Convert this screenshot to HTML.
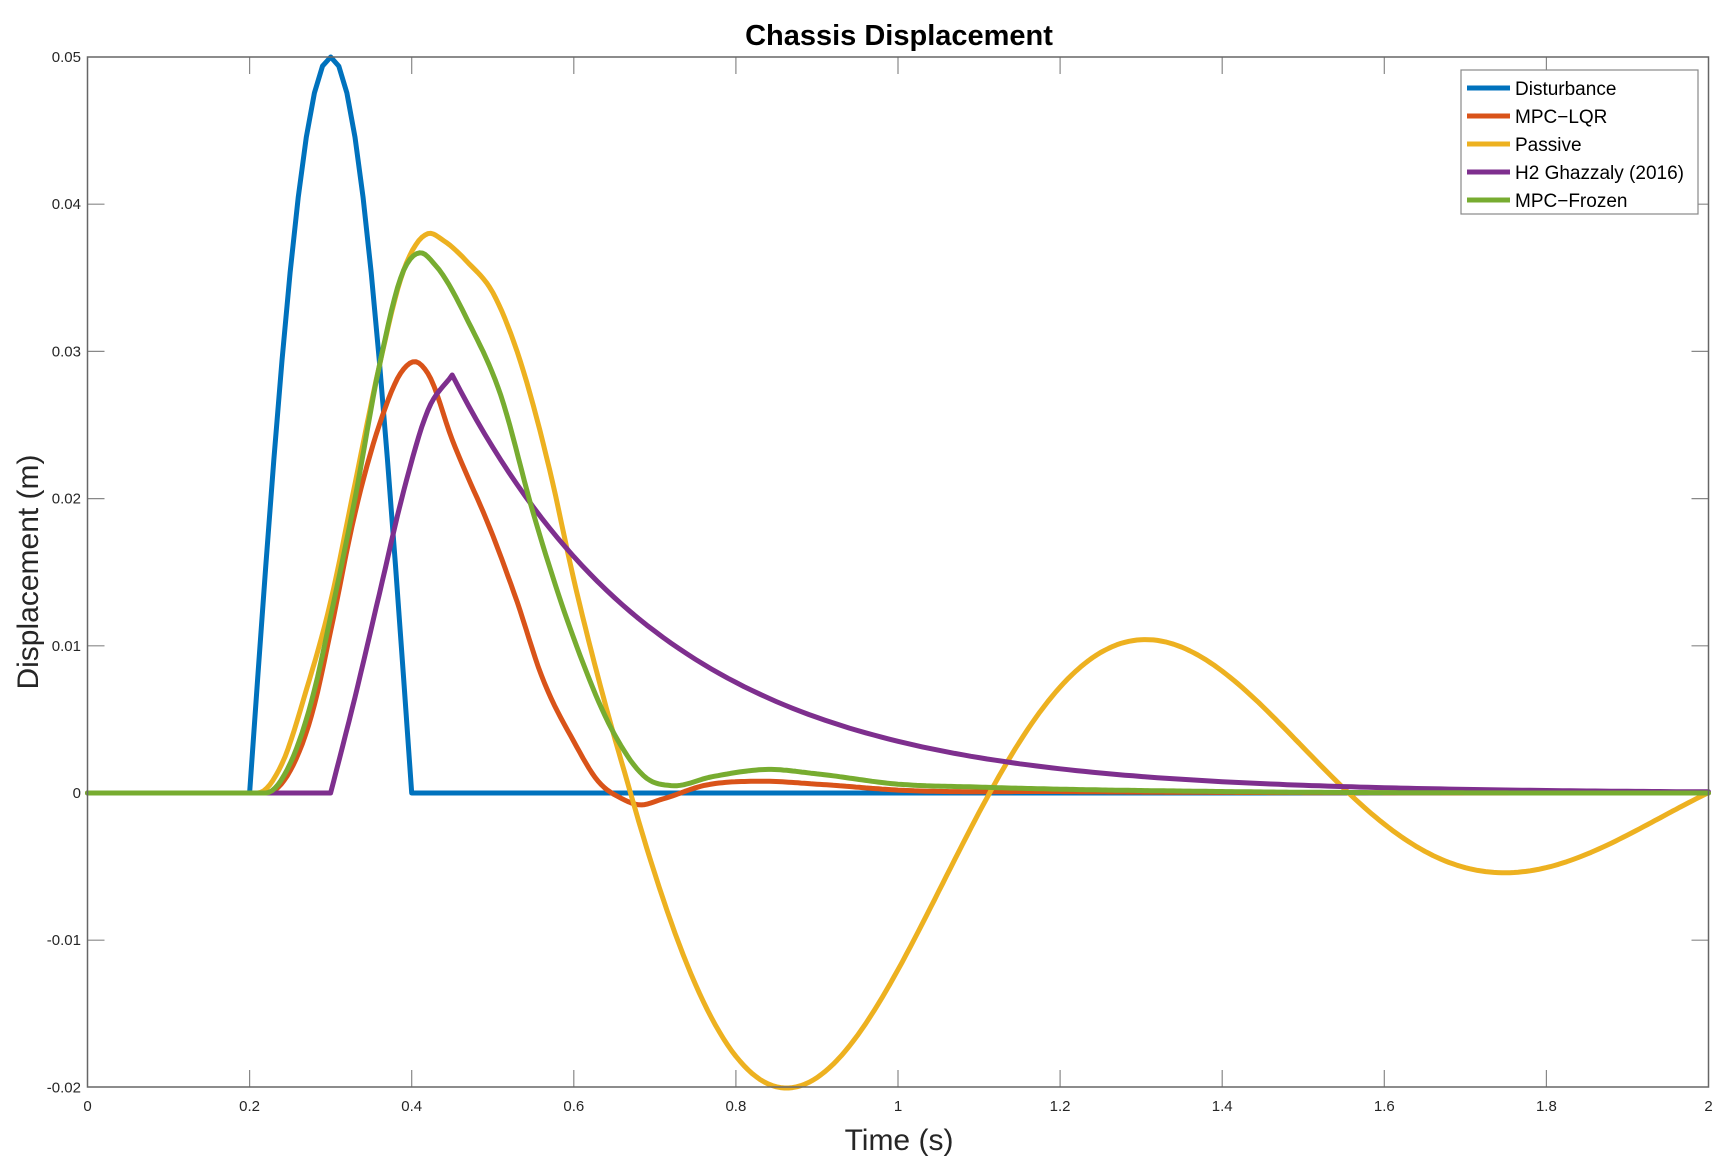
<!DOCTYPE html>
<html><head><meta charset="utf-8"><style>
body{margin:0;background:#fff;}
svg{display:block;font-family:"Liberation Sans",Arial,sans-serif;}
</style></head><body>
<svg id="s" width="1732" height="1168" viewBox="0 0 1732 1168" xmlns="http://www.w3.org/2000/svg">
<rect width="1732" height="1168" fill="#fff"/>
<g id="grid"></g>
<g id="curves" fill="none" stroke-width="5" stroke-linejoin="round" stroke-linecap="round"></g>
<rect x="87.5" y="57" width="1621" height="1030" fill="none" stroke="#666" stroke-width="1.5"/>
<text x="899" y="45" text-anchor="middle" font-size="29" font-weight="bold" fill="#000">Chassis Displacement</text>
<text x="899" y="1150" text-anchor="middle" font-size="30" fill="#262626">Time (s)</text>
<text transform="translate(38,572) rotate(-90)" text-anchor="middle" font-size="30" fill="#262626">Displacement (m)</text>
<g>
<rect x="1461" y="70" width="237" height="144" fill="#fff" stroke="#888" stroke-width="1.2"/>
<g stroke-width="5">
<line x1="1467" y1="88" x2="1510" y2="88" stroke="#0072BD"/>
<line x1="1467" y1="116" x2="1510" y2="116" stroke="#D95319"/>
<line x1="1467" y1="144" x2="1510" y2="144" stroke="#EDB120"/>
<line x1="1467" y1="172" x2="1510" y2="172" stroke="#7E2F8E"/>
<line x1="1467" y1="200" x2="1510" y2="200" stroke="#77AC30"/>
</g>
<g font-size="19" fill="#000">
<text x="1515" y="95">Disturbance</text>
<text x="1515" y="123">MPC−LQR</text>
<text x="1515" y="151">Passive</text>
<text x="1515" y="179">H2 Ghazzaly (2016)</text>
<text x="1515" y="207">MPC−Frozen</text>
</g>
</g>
</svg>
<script>
const L=87.5,R=1708.5,T=57,B=1087;
const X=t=>L+(t/2)*(R-L), Y=v=>793-v*14720;
const g=document.getElementById('grid');
let h='';
for(let i=0;i<=10;i++){const t=i*0.2,x=X(t);
 if(i>0&&i<10){h+=`<line x1="${x}" y1="${B}" x2="${x}" y2="${B-17}" stroke="#888" stroke-width="1.2"/><line x1="${x}" y1="${T}" x2="${x}" y2="${T+17}" stroke="#888" stroke-width="1.2"/>`;}
 let lab=(Math.round(t*10)/10).toString();
 h+=`<text x="${x}" y="${B+24}" text-anchor="middle" font-size="15" fill="#262626">${lab}</text>`;}
const yt=[0.05,0.04,0.03,0.02,0.01,0,-0.01,-0.02];
yt.forEach(v=>{const y=Y(v);
 if(v<0.05&&v>-0.02){h+=`<line x1="${L}" y1="${y}" x2="${L+17}" y2="${y}" stroke="#888" stroke-width="1.2"/><line x1="${R}" y1="${y}" x2="${R-17}" y2="${y}" stroke="#888" stroke-width="1.2"/>`;}
 let lab=v==0?'0':v.toFixed(2);
 h+=`<text x="81" y="${y+5}" text-anchor="end" font-size="15" fill="#262626">${lab}</text>`;});
g.innerHTML=h;
function spline(pts,m0,mn){const n=pts.length,d=[],m=[];
 for(let i=0;i<n-1;i++)d.push((pts[i+1][1]-pts[i][1])/(pts[i+1][0]-pts[i][0]));
 m[0]=m0!==undefined?m0:d[0];m[n-1]=mn!==undefined?mn:d[n-2];
 for(let i=1;i<n-1;i++){if(d[i-1]==0||d[i]==0)m[i]=0;else{const h0=pts[i][0]-pts[i-1][0],h1=pts[i+1][0]-pts[i][0];m[i]=(d[i-1]*h1+d[i]*h0)/(h0+h1);}}
 let p=[];
 for(let i=0;i<n-1;i++){const x0=pts[i][0],x1=pts[i+1][0],y0=pts[i][1],y1=pts[i+1][1],hh=x1-x0;
  const N=Math.max(2,Math.ceil(hh/0.004));
  for(let k=0;k<N;k++){const s=k/N,s2=s*s,s3=s2*s;
   const y=(2*s3-3*s2+1)*y0+(s3-2*s2+s)*hh*m[i]+(-2*s3+3*s2)*y1+(s3-s2)*hh*m[i+1];
   p.push([x0+s*hh,y]);}}
 p.push(pts[n-1]);return p;}
function path(p,c){return `<path d="M${p.map(q=>X(q[0]).toFixed(1)+','+Y(q[1]).toFixed(1)).join('L')}" stroke="${c}"/>`;}
let dist=[[0,0]];for(let t=0.2;t<=0.4001;t+=0.01){dist.push([t,0.05*Math.sin(Math.PI*(t-0.2)/0.2)]);}dist.push([0.4,0],[2,0]);
const lqr=[[0,0],[0.2,0],[0.22,0],[0.25,0.0015],[0.28,0.006],[0.3,0.011],[0.33,0.019],[0.36,0.025],[0.39,0.0288],[0.405,0.0293],[0.42,0.0285],[0.45,0.024],[0.5,0.0175],[0.53,0.013],[0.56,0.008],[0.6,0.0035],[0.63,0.0008],[0.66,-0.0004],[0.68,-0.0008],[0.71,-0.0004],[0.76,0.0005],[0.83,0.0008],[0.9,0.0006],[1.0,0.0002],[1.2,0.0001],[1.6,0.00001],[2,0]];
const fro=[[0,0],[0.2,0],[0.22,0],[0.25,0.002],[0.28,0.007],[0.3,0.012],[0.33,0.02],[0.36,0.029],[0.39,0.0355],[0.41,0.0367],[0.43,0.0358],[0.47,0.032],[0.51,0.027],[0.55,0.019],[0.6,0.0105],[0.65,0.004],[0.69,0.001],[0.72,0.0005],[0.77,0.0011],[0.84,0.0016],[0.9,0.0013],[1.0,0.0006],[1.1,0.0004],[1.4,0.0001],[1.7,0.00001],[2,0]];
const A=0.0272,a=1.476,P=0.443,t0=0.67;
const pf=t=>-A*Math.exp(-a*(t-t0))*Math.sin(Math.PI*(t-t0)/P);
const pasHead=[[0,0],[0.19,0],[0.21,0],[0.24,0.002],[0.27,0.007],[0.3,0.013],[0.33,0.021],[0.36,0.029],[0.39,0.0355],[0.42,0.038],[0.44,0.0375],[0.47,0.036],[0.5,0.034],[0.53,0.03],[0.57,0.022],[0.6,0.0145],[0.64,0.0058],[0.67,0]];
let pas=spline(pasHead,undefined,-A*Math.PI/P);
for(let t=0.675;t<=2.0001;t+=0.005)pas.push([t,pf(t)]);
let h2=[[0,0],[0.3,0]];
const rise=[[0.3,0],[0.33,0.0065],[0.36,0.0135],[0.39,0.0205],[0.42,0.026],[0.45,0.0284]];
h2=h2.concat(spline(rise).slice(1));
for(let t=0.46;t<=2.0001;t+=0.01){h2.push([t,0.0284*Math.exp(-3.8*(t-0.45))]);}
let out='';
out+=path(dist,'#0072BD');
out+=path(spline(lqr),'#D95319');
out+=path(pas,'#EDB120');
out+=path(h2,'#7E2F8E');
out+=path(spline(fro),'#77AC30');
document.getElementById('curves').innerHTML=out;
</script>
</body></html>
